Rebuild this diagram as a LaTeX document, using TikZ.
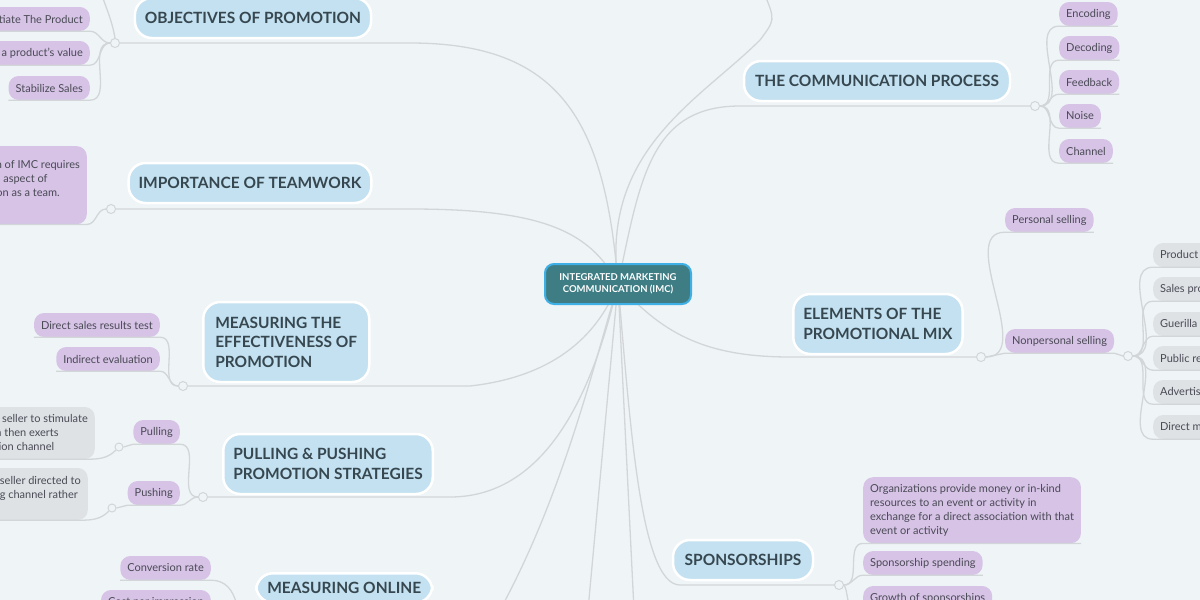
\documentclass[tikz,border=0pt]{standalone}
\usepackage{fontspec}
\setmainfont{Lato}
\definecolor{bg}{HTML}{EFF4F7}
\definecolor{tblue}{HTML}{C3E1F1}
\definecolor{ttext}{HTML}{37474F}
\definecolor{purp}{HTML}{D6C3E6}
\definecolor{gbox}{HTML}{DEE2E5}
\definecolor{ctext}{HTML}{4A4A55}
\definecolor{lgray}{HTML}{D2D6D9}
\definecolor{cfill}{HTML}{3F7D84}
\definecolor{cborder}{HTML}{3FB0E6}
\tikzset{
  topic/.style={fill=tblue,draw=white,line width=2.5pt,rounded corners=17pt,text=ttext,font=\bfseries\fontsize{15.5}{19.5}\selectfont,inner xsep=10pt,inner ysep=8pt,align=left},
  kid/.style={fill=purp,rounded corners=10pt,text=ctext,font=\fontsize{11}{14}\selectfont,inner xsep=7pt,inner ysep=0pt,minimum height=24pt,align=left},
  gkid/.style={kid,fill=gbox},
  hub/.style={circle,draw=lgray,fill=bg,line width=1pt,minimum size=9pt,inner sep=0pt},
  conn/.style={draw=lgray,line width=1.3pt},
}
\begin{document}
\begin{tikzpicture}[x=1pt,y=-1pt]
\fill[bg] (0,0) rectangle (1200,600);
\useasboundingbox (0,0) rectangle (1200,600);

% ---------- center connectors (drawn first)
\coordinate (c0) at (618,284);
\coordinate (ctop) at (765,-5);
\coordinate (cb1) at (500,610);
\coordinate (cb2) at (588,610);
\coordinate (cb3) at (634,610);
\draw[conn] (c0) .. controls (600,150) and (700,100) .. (760,40) .. controls (775,20) .. (ctop);
\draw[conn] (c0) .. controls (590,380) and (560,500) .. (cb1);
\draw[conn] (c0) -- (cb2);
\draw[conn] (c0) -- (cb3);

% ---------- topics
\node[topic,minimum width=236pt,minimum height=40pt] (obj) at (253,18) {OBJECTIVES OF PROMOTION};
\node[topic,minimum width=240pt,minimum height=40pt] (team) at (250,183) {IMPORTANCE OF TEAMWORK};
\node[topic,anchor=west,minimum height=80pt,minimum width=166pt] (meas) at (202,342) {MEASURING THE\\EFFECTIVENESS OF\\PROMOTION};
\node[topic,anchor=west,minimum height=60pt] (pull) at (222,464) {PULLING \& PUSHING\\PROMOTION STRATEGIES};
\node[topic,anchor=north west,minimum width=176pt,inner ysep=9pt] (onl) at (255,572) {MEASURING ONLINE};
\node[topic,minimum width=266pt,minimum height=40pt] (comm) at (877,81) {THE COMMUNICATION PROCESS};
\node[topic,anchor=west,minimum height=60pt,minimum width=166pt] (elem) at (792,324) {ELEMENTS OF THE\\PROMOTIONAL MIX};
\node[topic,minimum width=140pt,minimum height=40pt] (spon) at (743,560) {SPONSORSHIPS};

% hubs
\node[hub] (hobj) at (115,43) {};
\node[hub] (hteam) at (111,209) {};
\node[hub] (hmeas) at (183,386) {};
\node[hub] (hpull) at (203,497) {};
\node[hub] (hcomm) at (1035,106) {};
\node[hub] (helem) at (981,357) {};
\node[hub] (hspon) at (839,585) {};

% topic connectors
\draw[conn] (hobj.east) -- (410,43) .. controls (560,43) and (605,120) .. (c0);
\draw[conn] (hteam.east) -- (410,209) .. controls (540,209) and (590,230) .. (c0);
\draw[conn] (hmeas.east) -- (470,386) .. controls (560,376) and (600,330) .. (c0);
\draw[conn] (hpull.east) -- (450,497) .. controls (560,497) and (600,360) .. (c0);
\draw[conn] (c0) .. controls (640,180) and (650,106) .. (740,106) -- (hcomm.west);
\draw[conn] (c0) .. controls (660,330) and (700,357) .. (790,357) -- (helem.west);
\draw[conn] (c0) .. controls (630,420) and (640,585) .. (680,585) -- (hspon.west);

% center node
\node[fill=cfill,draw=cborder,line width=2pt,rounded corners=9pt,text=white,font=\bfseries\fontsize{9.5}{12}\selectfont,align=center,minimum width=146pt,minimum height=40pt] (center) at (618,284) {INTEGRATED MARKETING\\COMMUNICATION (IMC)};

% ---------- objectives children
\node[kid,anchor=east] (o1) at (90,19) {Differentiate The Product};
\node[kid,anchor=east] (o2) at (90,53) {Accentuate a product's value};
\node[kid,anchor=east] (o3) at (90,88) {Stabilize Sales};
\coordinate (o0) at (100,-10);
\draw[conn] (hobj.north) .. controls (112,20) and (105,5) .. (o0);
\foreach \k in {o1,o2,o3}{\draw[conn] (\k.south west) -- (\k.south east) to[out=0,in=180] (hobj.west);}

% teamwork child
\node[kid,anchor=north east,inner ysep=8pt,minimum height=78pt,align=left] (t1) at (87,146) {The successful implementation of IMC requires\\that everyone involved in each aspect of\\the promotion program function as a team.\\};
\draw[conn] (t1.south west) -- (t1.south east) to[out=0,in=180] (hteam.west);

% measuring children
\node[kid,anchor=east] (m1) at (160,325) {Direct sales results test};
\node[kid,anchor=east] (m2) at (160,359) {Indirect evaluation};
\foreach \k in {m1,m2}{\draw[conn] (\k.south west) -- (\k.south east) to[out=0,in=180] (hmeas.west);}

% pulling/pushing
\node[kid,anchor=east] (p1) at (180,432) {Pulling};
\node[kid,anchor=east] (p2) at (180,493) {Pushing};
\node[hub,minimum size=8pt] (hp1) at (119,447) {};
\node[hub,minimum size=8pt] (hp2) at (112,508) {};
\draw[conn] (hp1.east) -- (p1.south west) -- (p1.south east) to[out=0,in=180] (hpull.west);
\draw[conn] (hp2.east) -- (p2.south west) -- (p2.south east) to[out=0,in=180] (hpull.west);
\node[gkid,anchor=east,minimum height=52pt,inner ysep=4pt] (g1) at (95,433) {Promotion efforts by the seller to stimulate\\final-user demand, which then exerts\\pressure on the distribution channel};
\node[gkid,anchor=east,minimum height=52pt,inner ysep=4pt] (g2) at (88,494) {Promotion efforts by the seller directed to\\members of the marketing channel rather\\than final users};
\draw[conn] (g1.south west) -- ([xshift=-8pt]g1.south east) to[out=0,in=225] (hp1);
\draw[conn] (g2.south west) -- ([xshift=-8pt]g2.south east) to[out=0,in=225] (hp2);

% online children
\node[kid,anchor=east] (n1) at (211,568) {Conversion rate};
\node[kid,anchor=east] (n2) at (211,602) {Cost per impression};
\coordinate (honl) at (240,650);
\draw[conn] (n1.south west) -- (n1.south east) to[out=0,in=90] (honl);

% communication children
\foreach \n/\t/\y in {e1/Encoding/14,e2/Decoding/48,e3/Feedback/82,e4/Noise/116,e5/Channel/151}{
  \node[kid,anchor=west] (\n) at (1059,\y) {\t};
  \draw[conn] (hcomm.east) to[out=0,in=180] (\n.south west) -- (\n.south east);
}

% elements children
\node[kid,anchor=west] (l1) at (1005,220) {Personal selling};
\node[kid,anchor=west] (l2) at (1005,341) {Nonpersonal selling};
\draw[conn] (helem.east) to[out=0,in=180] (l1.south west) -- (l1.south east);
\node[hub] (hl2) at (1128,356) {};
\draw[conn] (helem.east) -- (l2.south west) -- (l2.south east) -- (hl2.west);
\foreach \n/\t/\y in {d1/Product placement/255,d2/Sales promotion/289,d3/Guerilla Marketing/324,d4/Public relations/358,d5/Advertising/392,d6/Direct marketing/427}{
  \node[gkid,anchor=west] (\n) at (1153,\y) {\t};
  \draw[conn] (hl2.east) to[out=0,in=180] (\n.south west) -- (\n.south east);
}

% sponsorship children
\node[kid,anchor=north west,inner ysep=6pt,minimum height=66pt] (s1) at (863,477) {Organizations provide money or in-kind\\resources to an event or activity in\\exchange for a direct association with that\\event or activity};
\node[kid,anchor=west] (s2) at (863,563) {Sponsorship spending};
\node[kid,anchor=west] (s3) at (863,598) {Growth of sponsorships};
\foreach \k in {s1,s2}{\draw[conn] (hspon.east) to[out=0,in=180] (\k.south west) -- (\k.south east);}
\draw[conn] (hspon.east) to[out=-60,in=120] (850,605);
\end{tikzpicture}
\end{document}
